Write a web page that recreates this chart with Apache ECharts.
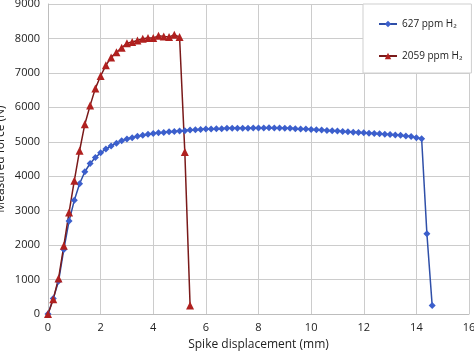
<!DOCTYPE html>
<html>
<head>
<meta charset="utf-8">
<script src="https://cdn.jsdelivr.net/npm/echarts@6/dist/echarts.min.js"></script>
<style>
html,body{margin:0;padding:0;background:#fff;}
#chart{width:474px;height:352px;}
</style>
</head>
<body>
<div id="chart"></div>
<script>
// 627 ppm H2 (blue)
var lowX = [0,0.2,0.4,0.6,0.8,1.0,1.2,1.4,1.6,1.8,2.0,2.2,2.4,2.6,2.8,3.0,3.2,3.4,3.6,3.8,
    4.0,4.2,4.4,4.6,4.8,5.0,5.2,5.4,5.6,5.8,6.0,6.2,6.4,6.6,6.8,7.0,7.2,7.4,7.6,7.8,
    8.0,8.2,8.4,8.6,8.8,9.0,9.2,9.4,9.6,9.8,10.0,10.2,10.4,10.6,10.8,11.0,11.2,11.4,11.6,11.8,
    12.0,12.2,12.4,12.6,12.8,13.0,13.2,13.4,13.6,13.8,14.0,14.2,14.4,14.6];
var lowY = [0,450,950,1870,2700,3300,3780,4130,4370,4540,4680,4790,4880,4960,5030,5080,5120,5160,5190,5220,
    5240,5260,5270,5290,5300,5310,5320,5340,5350,5360,5370,5370,5380,5380,5390,5390,5390,5390,5390,5400,
    5400,5400,5410,5400,5400,5390,5390,5380,5370,5370,5360,5350,5340,5330,5320,5310,5300,5290,5280,5270,
    5260,5250,5240,5230,5220,5210,5200,5190,5170,5150,5120,5090,2330,250];
// 2059 ppm H2 (red)
var highX = [0,0.2,0.4,0.6,0.8,1.0,1.2,1.4,1.6,1.8,2.0,2.2,2.4,2.6,2.8,3.0,3.2,3.4,3.6,3.8,
    4.0,4.2,4.4,4.6,4.8,5.0,5.2,5.4];
var highY = [0,430,1030,1980,2950,3870,4740,5510,6050,6550,6910,7220,7450,7600,7730,7860,7900,7940,7990,8010,
    8010,8080,8060,8040,8110,8040,4700,250];

function pairs(xs, ys){
    var out = [];
    for(var i=0;i<xs.length;i++) out.push([xs[i], ys[i]]);
    return out;
}

var myChart = echarts.init(document.getElementById('chart'));
var font = 'Open Sans, sans-serif';
var option = {
    animation: false,
    textStyle: { fontFamily: font },
    grid: { left: 48, right: 5, top: 4, bottom: 38, containLabel: false, outerBoundsMode: 'none' },
    legend: {
        orient: 'vertical',
        left: 363, top: 4,
        backgroundColor: '#fff',
        borderColor: '#cfcfcf',
        borderWidth: 1,
        padding: [15, 9, 12, 15],
        itemGap: 22,
        itemWidth: 18,
        itemHeight: 8,
        textStyle: { fontSize: 10, color: '#222', fontFamily: font },
        data: ['627 ppm H\u2082', '2059 ppm H\u2082']
    },
    xAxis: {
        type: 'value',
        min: 0, max: 16, interval: 2,
        name: 'Spike displacement (mm)',
        nameLocation: 'middle',
        nameGap: 25,
        nameTextStyle: { fontSize: 12, color: '#222' },
        axisLine: { lineStyle: { color: '#bdbdbd' } },
        axisTick: { show: false },
        axisLabel: { fontSize: 11, color: '#222', margin: 8 },
        splitLine: { lineStyle: { color: '#cccccc' } }
    },
    yAxis: {
        type: 'value',
        min: 0, max: 9000, interval: 1000,
        name: 'Measured force (N)',
        nameLocation: 'middle',
        nameGap: 41,
        nameMoveOverlap: false,
        nameTextStyle: { fontSize: 12, color: '#222' },
        axisLine: { show: true, lineStyle: { color: '#bdbdbd' } },
        axisTick: { show: false },
        axisLabel: { fontSize: 11, color: '#222', margin: 8, formatter: function(v){ return String(v); } },
        splitLine: { lineStyle: { color: '#cccccc' } }
    },
    series: [
        {
            name: '627 ppm H\u2082',
            type: 'line',
            data: pairs(lowX, lowY),
            symbol: 'diamond',
            symbolSize: 7,
            itemStyle: { color: '#3c5fcc' },
            lineStyle: { color: '#2f4fa8', width: 1.5 }
        },
        {
            name: '2059 ppm H\u2082',
            type: 'line',
            data: pairs(highX, highY),
            symbol: 'triangle',
            symbolSize: 8,
            itemStyle: { color: '#b0201f' },
            lineStyle: { color: '#7a1a1a', width: 1.5 }
        }
    ]
};
myChart.setOption(option, true);
</script>
</body>
</html>
